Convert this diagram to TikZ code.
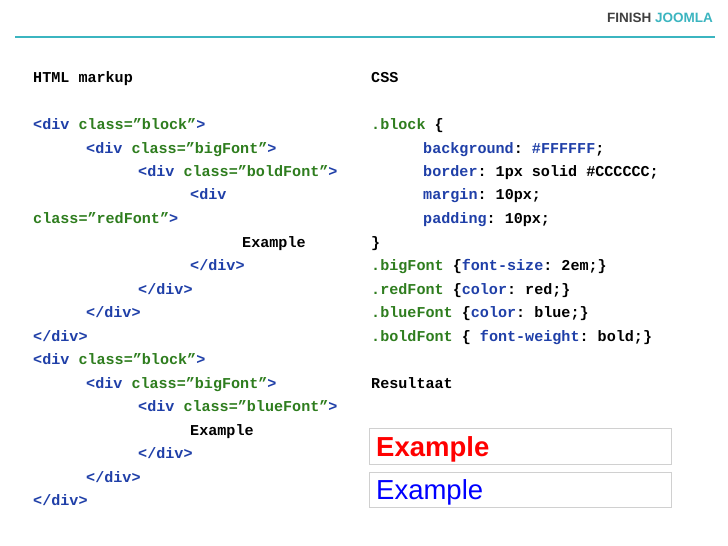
\documentclass[tikz,border=0pt]{standalone}
\usepackage{fontspec}
\setmonofont{Liberation Mono}
\setsansfont{Liberation Sans}
\definecolor{tagb}{HTML}{1F3FA8}
\definecolor{attg}{HTML}{2E7D1E}
\definecolor{tealc}{HTML}{3BB5C0}
\definecolor{lg}{HTML}{D0D0D0}
\newcommand{\tg}[1]{\textcolor{tagb}{#1}}
\newcommand{\ag}[1]{\textcolor{attg}{#1}}
\begin{document}
\begin{tikzpicture}[x=1pt,y=-1pt,
  code/.style={anchor=base west,inner sep=0pt,font=\ttfamily\bfseries\fontsize{15.1}{17}\selectfont}]
\useasboundingbox (0,0) rectangle (728,546);
\fill[white] (0,0) rectangle (728,546);
\draw[tealc,line width=1.2pt] (15,37) -- (715,37);
\node[anchor=base east,inner sep=0pt,font=\sffamily\bfseries\fontsize{13.5}{14}\selectfont] (logo) at (713,23) {\textcolor{black!75}{FINISH} \textcolor{tealc}{JOOMLA}};
% left column
\foreach \n/\x/\y/\t in {
 l0/33/77/{HTML markup},
 l1/33/124/{\tg{<div} \ag{class=”block”}\tg{>}},
 l2/86/148/{\tg{<div} \ag{class=”bigFont”}\tg{>}},
 l3/138/171/{\tg{<div} \ag{class=”boldFont”}\tg{>}},
 l4/190/194/{\tg{<div}},
 l5/33/218/{\ag{class=”redFont”}\tg{>}},
 l6/242/242/{Example},
 l7/190/265/{\tg{</div>}},
 l8/138/289/{\tg{</div>}},
 l9/86/312/{\tg{</div>}},
 l10/33/336/{\tg{</div>}},
 l11/33/359/{\tg{<div} \ag{class=”block”}\tg{>}},
 l12/86/383/{\tg{<div} \ag{class=”bigFont”}\tg{>}},
 l13/138/406/{\tg{<div} \ag{class=”blueFont”}\tg{>}},
 l14/190/430/{Example},
 l15/138/453/{\tg{</div>}},
 l16/86/477/{\tg{</div>}},
 l17/33/500/{\tg{</div>}}}
 \node[code] (\n) at (\x,\y+5) {\t};
% right column
\foreach \n/\x/\y/\t in {
 r0/371/77/{CSS},
 r1/371/124/{\ag{.block} \{},
 r2/423/148/{\tg{background}: \tg{\#FFFFFF};},
 r3/423/171/{\tg{border}: 1px solid \#CCCCCC;},
 r4/423/194/{\tg{margin}: 10px;},
 r5/423/218/{\tg{padding}: 10px;},
 r6/371/242/{\}},
 r7/371/265/{\ag{.bigFont} \{\tg{font-size}: 2em;\}},
 r8/371/289/{\ag{.redFont} \{\tg{color}: red;\}},
 r9/371/312/{\ag{.blueFont} \{\tg{color}: blue;\}},
 r10/371/336/{\ag{.boldFont} \{ \tg{font-weight}: bold;\}},
 r11/371/383/{Resultaat}}
 \node[code] (\n) at (\x,\y+5) {\t};
\draw[lg,line width=0.8pt] (369,428) rectangle (671,464);
\draw[lg,line width=0.8pt] (369,472) rectangle (671,507);
\node[anchor=base west,inner sep=0pt,font=\sffamily\bfseries\fontsize{27.5}{29}\selectfont,text=red] (ex1) at (376,456) {Example};
\node[anchor=base west,inner sep=0pt,font=\sffamily\fontsize{27.5}{29}\selectfont,text=blue] (ex2) at (376,499) {Example};
\end{tikzpicture}
\end{document}
